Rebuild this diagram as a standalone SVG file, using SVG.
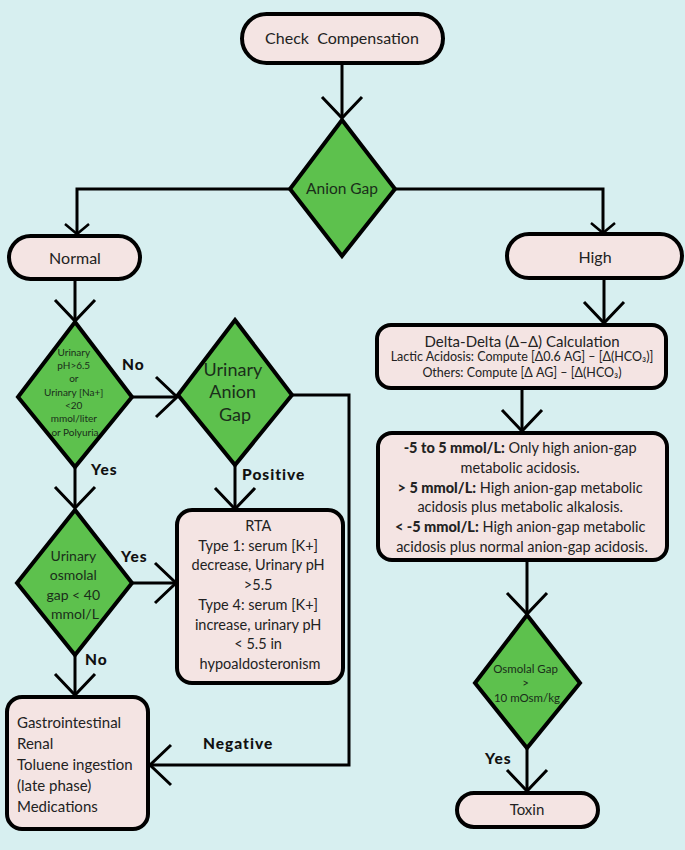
<svg xmlns="http://www.w3.org/2000/svg" width="685" height="850" viewBox="0 0 685 850">
<defs>
<marker id="big" markerUnits="userSpaceOnUse" viewBox="-24 -23 27 46" refX="0" refY="0" markerWidth="27" markerHeight="46" orient="auto" overflow="visible">
<path d="M-21,-20 L0,0 L-21,20" fill="none" stroke="#000" stroke-width="3"/>
</marker>
<marker id="small" markerUnits="userSpaceOnUse" viewBox="-14 -14 16 28" refX="0" refY="0" markerWidth="16" markerHeight="28" orient="auto" overflow="visible">
<path d="M-10,-12 L0,0 L-10,12" fill="none" stroke="#000" stroke-width="2.5"/>
</marker>
</defs>
<style>
.box{fill:#f4e4e3;stroke:#000;stroke-width:4}
.dia{fill:#5dc14d;stroke:#000;stroke-width:4;stroke-linejoin:miter}
.t{font-family:Lato,"Noto Sans","Liberation Sans",sans-serif;fill:#222;text-anchor:middle}
.tl{font-family:Lato,"Noto Sans","Liberation Sans",sans-serif;fill:#222;text-anchor:start;font-size:15px}
.dt{font-family:Lato,"Noto Sans","Liberation Sans",sans-serif;fill:#1a2e1a;text-anchor:middle}
.lb{font-family:Lato,"Noto Sans","Liberation Sans",sans-serif;fill:#111;font-weight:900;font-size:15.5px;letter-spacing:1px}
.c{fill:none;stroke:#000;stroke-width:3}
.b{font-weight:900}
</style>
<rect x="0" y="0" width="685" height="850" fill="#d7eff0"/>
<g id="connectors">
<path class="c" d="M342,63 V118" marker-end="url(#big)"/>
<path class="c" d="M290,189 H77 V234" marker-end="url(#small)"/>
<path class="c" d="M395,189 H603 V233" marker-end="url(#small)"/>
<path class="c" d="M75,279 V321" marker-end="url(#big)"/>
<path class="c" d="M132,397 H177" marker-end="url(#big)"/>
<path class="c" d="M75,467 V508" marker-end="url(#big)"/>
<path class="c" d="M235,465 V509" marker-end="url(#big)"/>
<path class="c" d="M132,583 H176" marker-end="url(#big)"/>
<path class="c" d="M75,655 V695" marker-end="url(#big)"/>
<path class="c" d="M292,395 H349 V765 H150" marker-end="url(#big)"/>
<path class="c" d="M604,277 V323" marker-end="url(#big)"/>
<path class="c" d="M522,388 V431" marker-end="url(#big)"/>
<path class="c" d="M527,560 V614" marker-end="url(#big)"/>
<path class="c" d="M527,748 V791" marker-end="url(#big)"/>
<text class="lb" x="122" y="370">No</text>
<text class="lb" x="91" y="475">Yes</text>
<text class="lb" x="242" y="480">Positive</text>
<text class="lb" x="121" y="562">Yes</text>
<text class="lb" x="85" y="665">No</text>
<text class="lb" x="203" y="749">Negative</text>
<text class="lb" x="485" y="764">Yes</text>
</g>
<g id="check">
<rect class="box" x="242" y="14" width="201" height="49" rx="24.5"/>
<text class="t" x="342" y="44" font-size="16" xml:space="preserve">Check  Compensation</text>
</g>
<g id="anion-gap">
<polygon class="dia" points="342,120 395,189 342,256 290,189"/>
<text class="dt" x="342" y="194" font-size="15.5">Anion Gap</text>
</g>
<g id="normal">
<rect class="box" x="9" y="236" width="131" height="43" rx="21.5"/>
<text class="t" x="75" y="264" font-size="16">Normal</text>
</g>
<g id="high">
<rect class="box" x="507" y="234" width="175" height="44" rx="22"/>
<text class="t" x="595" y="263" font-size="16">High</text>
</g>
<g id="urinary-ph">
<polygon class="dia" points="75,322 132,397 75,467 18,397"/>
<text class="dt" font-size="10">
<tspan x="75" y="356">Urinary</tspan>
<tspan x="75" y="369">pH&gt;6.5</tspan>
<tspan x="75" y="382">or</tspan>
<tspan x="75" y="396">Urinary [Na+]</tspan>
<tspan x="75" y="409">&lt;20</tspan>
<tspan x="75" y="422">mmol/liter</tspan>
<tspan x="75" y="436">or Polyuria</tspan>
</text>
</g>
<g id="urinary-anion-gap">
<polygon class="dia" points="235,320 292,395 235,465 178,395"/>
<text class="dt" font-size="18">
<tspan x="235" y="376">Urinary</tspan>
<tspan x="235" y="398">Anion</tspan>
<tspan x="235" y="421">Gap</tspan>
</text>
</g>
<g id="osmolal-gap">
<polygon class="dia" points="75,510 132,583 75,655 17,583"/>
<text class="dt" font-size="14">
<tspan x="75" y="561">Urinary</tspan>
<tspan x="75" y="580">osmolal</tspan>
<tspan x="75" y="600">gap &lt; 40</tspan>
<tspan x="75" y="619">mmol/L</tspan>
</text>
</g>
<g id="rta">
<rect class="box" x="177" y="510" width="166" height="173" rx="15"/>
<text class="t" font-size="14.5">
<tspan x="260" y="531">RTA</tspan>
<tspan x="260" y="551">Type 1: serum [K+]</tspan>
<tspan x="260" y="570">decrease, Urinary pH</tspan>
<tspan x="260" y="590">&gt;5.5</tspan>
<tspan x="260" y="610">Type 4: serum [K+]</tspan>
<tspan x="260" y="630">increase, urinary pH</tspan>
<tspan x="260" y="649">&lt; 5.5 in</tspan>
<tspan x="260" y="669">hypoaldosteronism</tspan>
</text>
</g>
<g id="causes">
<rect class="box" x="7" y="697" width="141" height="132" rx="15"/>
<text class="tl">
<tspan x="17" y="728">Gastrointestinal</tspan>
<tspan x="17" y="749">Renal</tspan>
<tspan x="17" y="770">Toluene ingestion</tspan>
<tspan x="17" y="791">(late phase)</tspan>
<tspan x="17" y="812">Medications</tspan>
</text>
</g>
<g id="delta-delta">
<rect class="box" x="377" y="325" width="289" height="63" rx="14"/>
<text class="t" x="522" y="347" font-size="15">Delta-Delta (Δ–Δ) Calculation</text>
<text class="t" x="522" y="361" font-size="12.5">Lactic Acidosis: Compute [Δ0.6 AG] – [Δ(HCO₃)]</text>
<text class="t" x="522" y="377" font-size="12.5">Others: Compute [Δ AG] – [Δ(HCO₃)</text>
</g>
<g id="interpretation">
<rect class="box" x="378" y="433" width="289" height="127" rx="14"/>
<text class="t" font-size="14.5">
<tspan x="522" y="453"><tspan class="b">-5 to 5 mmol/L:</tspan> Only high anion-gap</tspan>
<tspan x="522" y="473">metabolic acidosis.</tspan>
<tspan x="522" y="493"><tspan class="b">&gt; 5 mmol/L:</tspan> High anion-gap metabolic</tspan>
<tspan x="522" y="512">acidosis plus metabolic alkalosis.</tspan>
<tspan x="522" y="532"><tspan class="b">&lt; -5 mmol/L:</tspan> High anion-gap metabolic</tspan>
<tspan x="522" y="552">acidosis plus normal anion-gap acidosis.</tspan>
</text>
</g>
<g id="osmolal-gap-high">
<polygon class="dia" points="527,615 580,683 527,748 475,683"/>
<text class="dt" font-size="11.5">
<tspan x="527" y="673">Osmolal Gap</tspan>
<tspan x="527" y="687">&gt;</tspan>
<tspan x="527" y="702">10 mOsm/kg</tspan>
</text>
</g>
<g id="toxin">
<rect class="box" x="457" y="793" width="141" height="34" rx="17"/>
<text class="t" x="527" y="815" font-size="15">Toxin</text>
</g>
</svg>
